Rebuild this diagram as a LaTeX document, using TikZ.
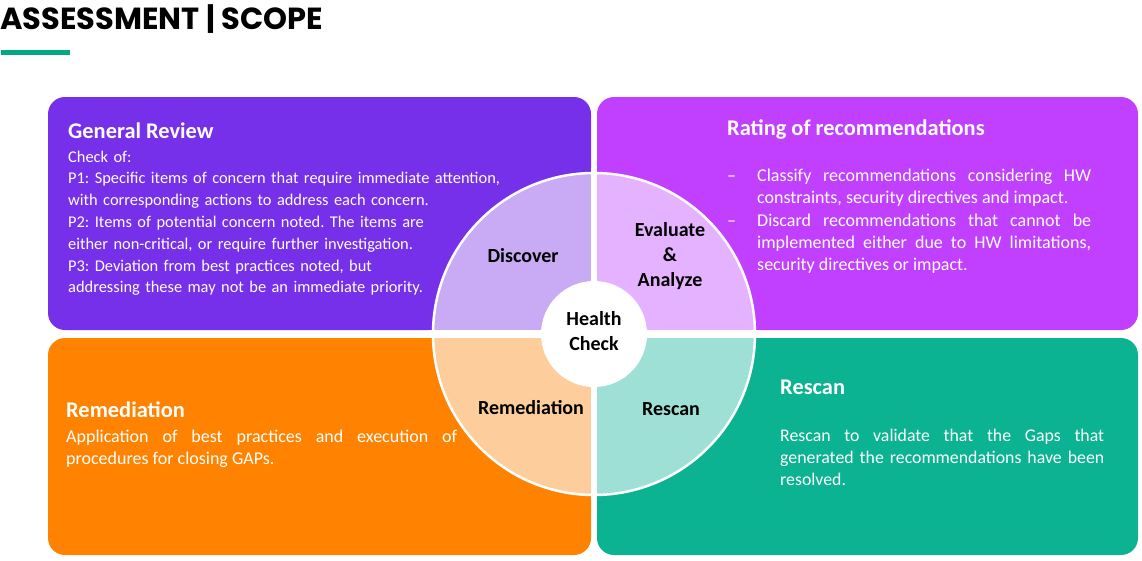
\documentclass[tikz,border=0pt]{standalone}
\usepackage{fontspec}
\setmainfont{Carlito}
\newfontfamily\titlefont{Poppins}
\usetikzlibrary{positioning}
\hyphenpenalty=10000
\exhyphenpenalty=10000
\frenchspacing

\definecolor{hpepurple}{RGB}{118,48,234}
\definecolor{hpeviolet}{RGB}{193,64,255}
\definecolor{hpeorange}{RGB}{255,131,0}
\definecolor{hpeteal}{RGB}{11,179,147}
\definecolor{hpegreen}{RGB}{1,169,130}
\definecolor{discoverlt}{RGB}{200,170,245}
\definecolor{evaluatelt}{RGB}{228,178,255}
\definecolor{remedlt}{RGB}{253,205,155}
\definecolor{rescanlt}{RGB}{158,224,213}

\begin{document}
\begin{tikzpicture}[x=1pt, y=-1pt,
    % --- styles ---
    panel/.style={rounded corners=17pt},
    headtext/.style={font=\fontsize{22.4}{24}\selectfont\bfseries, text=white, inner sep=0pt, anchor=base west},
    bodytext/.style={font=\fontsize{18}{22.4}\selectfont, text=white, inner sep=0pt, anchor=base west},
    wheeltext/.style={font=\fontsize{20}{25}\selectfont\bfseries, text=black, align=center, inner sep=0pt}
]
    \useasboundingbox (0,0) rectangle (1142,560);

    % =========================================
    % title with green underline
    % =========================================
    \node[anchor=base west, inner sep=0pt, font=\titlefont\fontsize{30.5}{30}\selectfont\bfseries] (title) at (0,29) {ASSESSMENT | SCOPE};
    \fill[hpegreen] (1,50) rectangle (70,55);

    % =========================================
    % four coloured panels
    % =========================================
    \fill[panel, hpepurple] (48,97)  rectangle (591,330);
    \fill[panel, hpeviolet] (597,97) rectangle (1138,330);
    \fill[panel, hpeorange] (48,338) rectangle (591,555);
    \fill[panel, hpeteal]   (597,338) rectangle (1138,555);

    % =========================================
    % the wheel in the middle
    % =========================================
    \coordinate (hc) at (594,334);

    % --- 1. light quadrants ---
    \foreach \qx/\qy/\qc in {-1/-1/discoverlt, 1/-1/evaluatelt, -1/1/remedlt, 1/1/rescanlt} {
        \begin{scope}
            \clip (hc) rectangle ++(\qx*180, \qy*180);
            \fill[\qc] (hc) circle[radius=161pt];
        \end{scope}
    }

    % --- 2. white ring, cross and hub ---
    \draw[white, line width=2.5pt] (hc) circle[radius=161pt];
    \fill[white] (591,168) rectangle (597,500);
    \fill[white] (428,330) rectangle (760,338);
    \fill[white] (hc) circle[radius=53pt];

    % --- 3. wheel labels ---
    \node[wheeltext] (health)   at (594,331) {Health\\Check};
    \node[wheeltext] (discover) at (523,256) {Discover};
    \node[wheeltext] (evaluate) at (670,256) {Evaluate\\\&\\Analyze};
    \node[wheeltext] (remed)    at (531,408) {Remediation};
    \node[wheeltext] (rescan)   at (671,409) {Rescan};

    % =========================================
    % panel texts
    % =========================================
    % General Review (top left)
    \node[headtext] (revhead) at (68,138) {General Review};
    \node[bodytext, font=\fontsize{16.4}{21.8}\selectfont, text width=450pt, align=left] (revtxt) at (68,162) {Check of:\\
        P1: Specific items of concern that require immediate attention,\\
        with corresponding actions to address each concern.\\
        P2: Items of potential concern noted. The items are\\
        either non-critical, or require further investigation.\\
        P3: Deviation from best practices noted, but\\
        addressing these may not be an immediate priority.};

    % Rating of recommendations (top right)
    \node[headtext] (ratehead) at (727,135) {Rating of recommendations};
    \node[bodytext] (dash1) at (727,181) {--};
    \node[bodytext, text width=334pt, align=justify] (rate1) at (757,181) {Classify recommendations considering HW\linebreak constraints, security directives and impact.};
    \node[bodytext] (dash2) at (727,226) {--};
    \node[bodytext, text width=334pt, align=justify] (rate2) at (757,226) {Discard recommendations that cannot be\linebreak implemented either due to HW limitations,\linebreak security directives or impact.};

    % Remediation (bottom left)
    \node[headtext] (remhead) at (66,417) {Remediation};
    \node[bodytext, text width=391pt, align=justify] (remtxt) at (66,442) {Application of best practices and execution of\linebreak procedures for closing GAPs.};

    % Rescan (bottom right)
    \node[headtext] (reshead) at (780,394) {Rescan};
    \node[bodytext, font=\fontsize{17.8}{22.4}\selectfont, text width=324pt, align=justify] (restxt) at (780,441) {Rescan to validate that the Gaps that\linebreak generated the recommendations have been\linebreak resolved.};

\end{tikzpicture}
\end{document}
